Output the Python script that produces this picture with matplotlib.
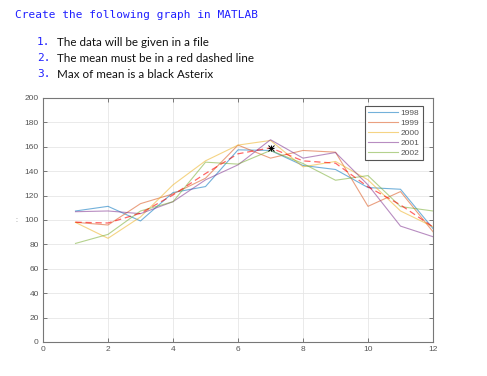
import numpy as np
import matplotlib
matplotlib.use('Agg')
import matplotlib.pyplot as plt
from matplotlib.patches import Rectangle

months = [1, 2, 3, 4, 5, 6, 7, 8, 9, 10, 11, 12]
years = ['1998', '1999', '2000', '2001', '2002']
y1998 = [107.4, 111.2, 99.2, 122.5, 127.4, 157.5, 157.0, 144.7, 141.4, 126.6, 125.2, 93.0]
y1999 = [98.1, 95.9, 113.4, 121.4, 134.2, 161.4, 150.7, 157.0, 155.6, 111.2, 123.3, 90.4]
y2000 = [98.0, 85.0, 102.5, 128.8, 148.5, 161.4, 165.2, 143.6, 148.0, 132.9, 107.4, 94.5]
y2001 = [106.8, 107.4, 105.2, 115.0, 132.9, 145.2, 165.8, 150.7, 155.3, 128.8, 95.0, 86.3]
y2002 = [80.8, 88.2, 107.4, 115.0, 147.4, 145.8, 157.0, 146.3, 132.6, 136.4, 111.0, 107.4]
series = [y1998, y1999, y2000, y2001, y2002]
colors = ['#0072BD', '#D95319', '#EDB120', '#7E2F8E', '#77AC30']

header = 'Create the following graph in MATLAB'
steps = ['The data will be given in a file',
         'The mean must be in a red dashed line',
         'Max of mean is a black Asterix']

plt.rcParams['font.family'] = 'Liberation Sans'

fig = plt.figure(figsize=(4.87, 3.76), dpi=100)
W, H = 487, 376
ax = fig.add_axes([43 / W, 1 - 342 / H, 390 / W, 244 / H])

for vals, c, lab in zip(series, colors, years):
    ax.plot(months, vals, color=c, lw=0.8, alpha=0.55, label=lab)

mean = np.mean(np.array(series), axis=0)
ax.plot(months, mean, 'r--', lw=0.9, alpha=0.6, dashes=(5, 3))
i = int(np.argmax(mean))
ax.plot(months[i], mean[i], marker='+', color='k', ms=5, mew=0.7)
ax.plot(months[i], mean[i], marker='x', color='k', ms=3.8, mew=0.7)

ax.set_xlim(0, 12)
ax.set_ylim(0, 200)
ax.set_xticks(range(0, 13, 2))
ax.set_yticks(range(0, 201, 20))
ax.grid(True, color='#e6e6e6', lw=0.6)
ax.set_axisbelow(True)
ax.tick_params(direction='in', length=3, width=0.6, colors='#666666',
               labelsize=6, labelcolor='#555555', top=True, right=True, pad=3)
for s in ax.spines.values():
    s.set_color('#777777')
    s.set_linewidth(0.8)

leg = ax.legend(loc='upper right', fontsize=6, handlelength=3.6, handletextpad=0.3,
                borderpad=0.4, labelspacing=0.25, fancybox=False, framealpha=1,
                bbox_to_anchor=(0.985, 0.985))
leg.get_frame().set_edgecolor('#555555')
leg.get_frame().set_linewidth(0.8)
for t in leg.get_texts():
    t.set_color('#555555')

# title and y label, mostly cut off in the reference
ax.set_title('Monthly avg', fontsize=7, color='#555555', pad=5)
fig.patches.append(Rectangle((150 / W, 1 - 91.5 / H), 200 / W, 12 / H,
                             transform=fig.transFigure, color='white', zorder=5))
fig.text(16 / W, 1 - 221 / H, ':', fontsize=5, color='#777777', ha='center', va='center')

fig.text(15 / W, 1 - 15 / H, header, family='DejaVu Sans Mono', fontsize=8,
         color='#2020ff', va='center')
for k, s in enumerate(steps):
    yy = 1 - (42 + 16 * k) / H
    fig.text(37 / W, yy, f'{k + 1}.', family='DejaVu Sans Mono', fontsize=8,
             color='#2020ff', va='center')
    fig.text(57 / W, yy, s, family='Lato', fontsize=8.4, color='#111111', va='center')

fig.savefig('out.png', dpi=100)
